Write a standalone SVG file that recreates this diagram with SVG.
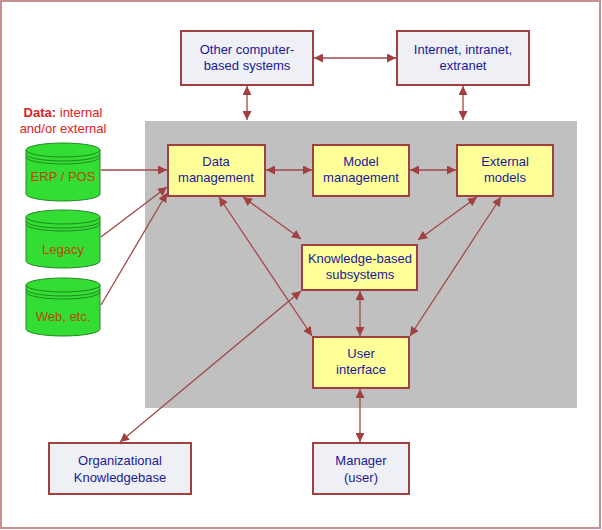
<svg xmlns="http://www.w3.org/2000/svg" width="602" height="530" viewBox="0 0 602 530">
<style>
text{font-family:"Liberation Sans",Arial,sans-serif;font-size:13px;text-anchor:middle}
.b{fill:#eef0f5;stroke:#a04040;stroke-width:2}
.y{fill:#ffff99;stroke:#a04040;stroke-width:2}
.t{fill:#1a1a99}
.c{stroke:#a04848;stroke-width:1.3;fill:none;marker-end:url(#a)}
.d{marker-start:url(#s)}
.cy{fill:#33dd33;stroke:#228822;stroke-width:1}
.ct{fill:#b84a10;font-size:13px}
</style>
<defs>
<marker id="a" viewBox="0 0 10 10" refX="10" refY="5" markerWidth="10" markerHeight="9" markerUnits="userSpaceOnUse" orient="auto"><path d="M0 0L10 5L0 10z" fill="#a04040"/></marker>
<marker id="s" viewBox="0 0 10 10" refX="0" refY="5" markerWidth="10" markerHeight="9" markerUnits="userSpaceOnUse" orient="auto"><path d="M10 0L0 5L10 10z" fill="#a04040"/></marker>
</defs>
<rect x="1" y="1" width="599" height="527" fill="#fff" stroke="#c89090" stroke-width="2"/>
<rect x="145" y="121" width="432" height="287" fill="#c0c0c0"/>
<g id="connectors">
<path class="c d" d="M314 58H396"/>
<path class="c d" d="M247 86V120"/>
<path class="c d" d="M463 86V120"/>
<path class="c d" d="M266 170H312"/>
<path class="c d" d="M410 170H456"/>
<path class="c" d="M101 170H167"/>
<path class="c" d="M101 237L167 187"/>
<path class="c" d="M101 305L167 193"/>
<path class="c d" d="M219 197L312 336"/>
<path class="c d" d="M243 197L301 239"/>
<path class="c d" d="M477 197L418 240"/>
<path class="c d" d="M501 197L410 336"/>
<path class="c d" d="M360 291V336"/>
<path class="c d" d="M360 389V442"/>
<path class="c d" d="M301 291L120 442"/>
</g>
<g id="other"><rect class="b" x="181" y="31" width="132" height="54"/><text class="t" x="247" y="54">Other computer-</text><text class="t" x="247" y="70">based systems</text></g>
<g id="internet"><rect class="b" x="397" y="31" width="132" height="54"/><text class="t" x="463" y="54">Internet, intranet,</text><text class="t" x="463" y="70">extranet</text></g>
<g id="datalabel"><text x="63" y="117" fill="#dd2222"><tspan font-weight="bold">Data:</tspan> internal</text><text x="63" y="133" fill="#dd2222">and/or external</text></g>
<g id="erp"><path class="cy" d="M26 150V194A37 7 0 0 0 100 194V150"/><ellipse class="cy" cx="63" cy="150" rx="37" ry="7"/><path d="M26 154A37 7 0 0 0 100 154M26 157A37 7 0 0 0 100 157" stroke="#228822" fill="none"/><text class="ct" x="63" y="181">ERP / POS</text></g>
<g id="legacy"><path class="cy" d="M26 217V261A37 7 0 0 0 100 261V217"/><ellipse class="cy" cx="63" cy="217" rx="37" ry="7"/><path d="M26 221A37 7 0 0 0 100 221M26 224A37 7 0 0 0 100 224" stroke="#228822" fill="none"/><text class="ct" x="63" y="254">Legacy</text></g>
<g id="web"><path class="cy" d="M26 285V329A37 7 0 0 0 100 329V285"/><ellipse class="cy" cx="63" cy="285" rx="37" ry="7"/><path d="M26 289A37 7 0 0 0 100 289M26 292A37 7 0 0 0 100 292" stroke="#228822" fill="none"/><text class="ct" x="63" y="321">Web, etc.</text></g>
<g id="data"><rect class="y" x="168" y="145" width="97" height="51"/><text class="t" x="216" y="166">Data</text><text class="t" x="216" y="182">management</text></g>
<g id="model"><rect class="y" x="313" y="145" width="96" height="51"/><text class="t" x="361" y="166">Model</text><text class="t" x="361" y="182">management</text></g>
<g id="external"><rect class="y" x="457" y="145" width="96" height="51"/><text class="t" x="505" y="166">External</text><text class="t" x="505" y="182">models</text></g>
<g id="kb"><rect class="y" x="302" y="245" width="115" height="45"/><text class="t" x="360" y="263">Knowledge-based</text><text class="t" x="360" y="279">subsystems</text></g>
<g id="ui"><rect class="y" x="313" y="337" width="96" height="51"/><text class="t" x="361" y="358">User</text><text class="t" x="361" y="374">interface</text></g>
<g id="org"><rect class="b" x="49" y="443" width="142" height="51"/><text class="t" x="120" y="465" font-size="14">Organizational</text><text class="t" x="120" y="482" font-size="14">Knowledgebase</text></g>
<g id="manager"><rect class="b" x="313" y="443" width="96" height="51"/><text class="t" x="361" y="465" font-size="14">Manager</text><text class="t" x="361" y="482" font-size="14">(user)</text></g>
</svg>
